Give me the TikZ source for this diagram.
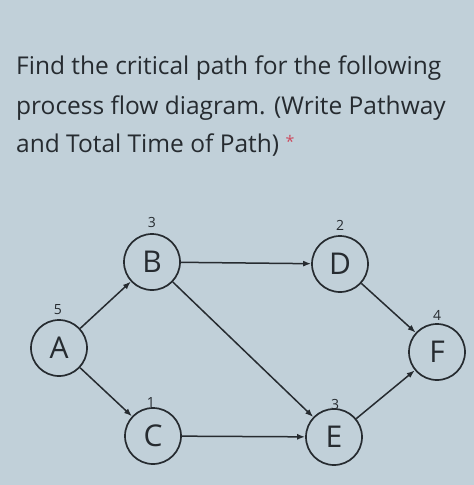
\documentclass[tikz,border=0pt]{standalone}
\usepackage{fontspec}
\setmainfont{Open Sans}
\usetikzlibrary{arrows.meta}
\definecolor{screen}{RGB}{193,208,217}
\definecolor{ink}{RGB}{38,43,48}
\definecolor{star}{RGB}{205,75,95}
\begin{document}
\begin{tikzpicture}[x=1pt,y=-1pt,
    task/.style={draw=ink, circle, minimum size=56pt, inner sep=0pt, line width=1.7pt,
                 text=ink, font=\fontsize{30}{30}\selectfont},
    dur/.style={text=ink, font=\fontsize{14}{14}\selectfont},
    flow/.style={-{Latex[length=8pt,width=6pt]}, draw=ink, line width=1.5pt}]
  \fill[screen] (0,0) rectangle (474,485);
  \useasboundingbox (0,0) rectangle (474,485);
  % question text
  \node[anchor=base west, text=ink, inner sep=0pt, font=\fontsize{24.5}{24.5}\selectfont] (q1) at (16,74) {Find the critical path for the following};
  \node[anchor=base west, text=ink, inner sep=0pt, font=\fontsize{24.5}{24.5}\selectfont] (q2) at (16,114) {process flow diagram. (Write Pathway};
  \node[anchor=base west, text=ink, inner sep=0pt, font=\fontsize{24.5}{24.5}\selectfont] (q3) at (16,152) {and Total Time of Path) \raisebox{5pt}{\textcolor{star}{\fontsize{16}{16}\selectfont *}}};
  % tasks
  \node[task] (A) at (59,348) {A};
  \node[task] (B) at (152,262) {B};
  \node[task] (C) at (153,436) {C};
  \node[task] (D) at (340,264) {D};
  \node[task] (E) at (334,437) {E};
  \node[task] (F) at (437,352) {F};
  % durations
  \node[dur] (tA) at (58,310) {5};
  \node[dur] (tB) at (152,222) {3};
  \node[dur] (tC) at (151,402) {1};
  \node[dur] (tD) at (340,225) {2};
  \node[dur] (tE) at (335,404) {3};
  \node[dur] (tF) at (437,315) {4};
  % arrows
  \draw[flow] (A) -- (B);
  \draw[flow] (A) -- (C);
  \draw[flow] (B) -- (D);
  \draw[flow] (B) -- (E);
  \draw[flow] (C) -- (E);
  \draw[flow] (D) -- (F);
  \draw[flow] (E) -- (F);
\end{tikzpicture}
\end{document}
